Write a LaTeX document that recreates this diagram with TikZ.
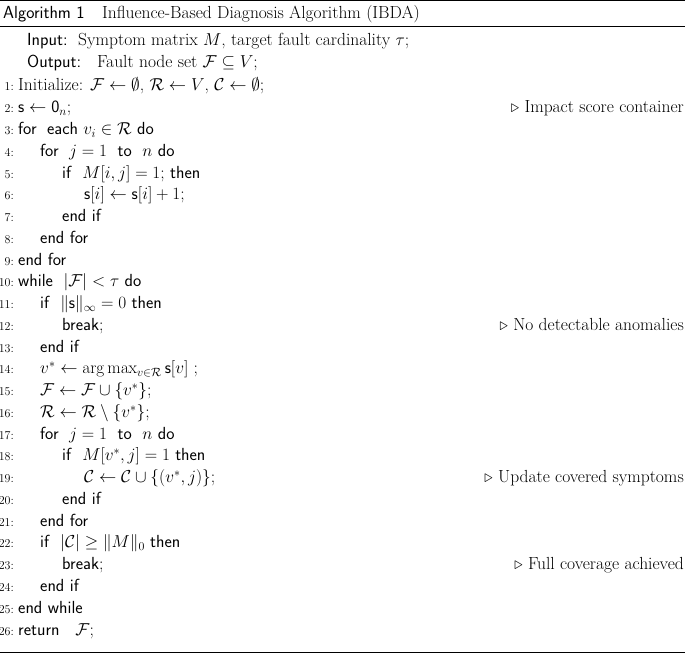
\documentclass[tikz,border=0pt]{standalone}
\usepackage{amsmath,amssymb}
\begin{document}
\begin{tikzpicture}[x=1pt,y=-1pt,
  txt/.style={anchor=base west,inner sep=0pt,font=\fontsize{17.5}{20}\selectfont},
  num/.style={anchor=base east,inner sep=0pt,font=\fontsize{12}{13}\selectfont},
  cmt/.style={anchor=base east,inner sep=0pt,font=\fontsize{17.5}{20}\selectfont},
  rule/.style={line width=0.6pt}]
\useasboundingbox (0,0) rectangle (685,660);
\newcommand\kw[1]{\textsf{#1}}
\draw[line width=1pt] (0,1) coordinate (ta) -- (685,1) coordinate (tb);
\node[txt] (h1) at (3,19) {\kw{Algorithm 1}};
\node[txt] (h2) at (102,19) {Influence-Based Diagnosis Algorithm (IBDA)};
\draw[rule] (0,26) coordinate (ma) -- (685,26) coordinate (mb);
\node[txt] (in) at (27,46) {\kw{Input:}\ \ Symptom matrix $M$, target fault cardinality $\tau$;};
\node[txt] (out) at (27,68) {\kw{Output:}\ \ \ Fault node set $\mathcal F\subseteq V$;};
\def\L#1#2#3{\node[num] (n#1) at (14,{91+21.76*(#1-1)}) {#1:};
  \node[txt] (l#1) at ({18+22*#2},{91+21.76*(#1-1)}) {#3};}
\def\C#1#2{\node[cmt] (c#1) at (684,{91+21.76*(#1-1)}) {$\triangleright$ #2};}
\L{1}{0}{Initialize: $\mathcal F\leftarrow\emptyset$, $\mathcal R\leftarrow V$, $\mathcal C\leftarrow\emptyset$;}
\L{2}{0}{$\mathsf{s}\leftarrow \mathsf{0}_n$;}\C{2}{Impact score container}
\L{3}{0}{\kw{for}\ \ \kw{each} $v_i\in\mathcal R$ \kw{do}}
\L{4}{1}{\kw{for}\ \ $j=1$\ \ \kw{to}\ \ $n$ \kw{do}}
\L{5}{2}{\kw{if}\ \ $M[i,j]=1$; \kw{then}}
\L{6}{3}{$\mathsf s[i]\leftarrow\mathsf s[i]+1$;}
\L{7}{2}{\kw{end if}}
\L{8}{1}{\kw{end for}}
\L{9}{0}{\kw{end for}}
\L{10}{0}{\kw{while}\ \ $|\mathcal F|<\tau$ \kw{do}}
\L{11}{1}{\kw{if}\ \ $\|\mathsf s\|_\infty=0$ \kw{then}}
\L{12}{2}{\kw{break};}\C{12}{No detectable anomalies}
\L{13}{1}{\kw{end if}}
\L{14}{1}{$v^*\leftarrow\arg\max_{v\in\mathcal R}\mathsf s[v]$ ;}
\L{15}{1}{$\mathcal F\leftarrow\mathcal F\cup\{v^*\}$;}
\L{16}{1}{$\mathcal R\leftarrow\mathcal R\setminus\{v^*\}$;}
\L{17}{1}{\kw{for}\ \ $j=1$\ \ \kw{to}\ \ $n$ \kw{do}}
\L{18}{2}{\kw{if}\ \ $M[v^*,j]=1$ \kw{then}}
\L{19}{3}{$\mathcal C\leftarrow\mathcal C\cup\{(v^*,j)\}$;}\C{19}{Update covered symptoms}
\L{20}{2}{\kw{end if}}
\L{21}{1}{\kw{end for}}
\L{22}{1}{\kw{if}\ \ $|\mathcal C|\ge\|M\|_0$ \kw{then}}
\L{23}{2}{\kw{break};}\C{23}{Full coverage achieved}
\L{24}{1}{\kw{end if}}
\L{25}{0}{\kw{end while}}
\L{26}{0}{\kw{return}\ \ \ $\mathcal F$;}
\draw[rule] (0,652) coordinate (ba) -- (685,652) coordinate (bb);
\end{tikzpicture}
\end{document}
